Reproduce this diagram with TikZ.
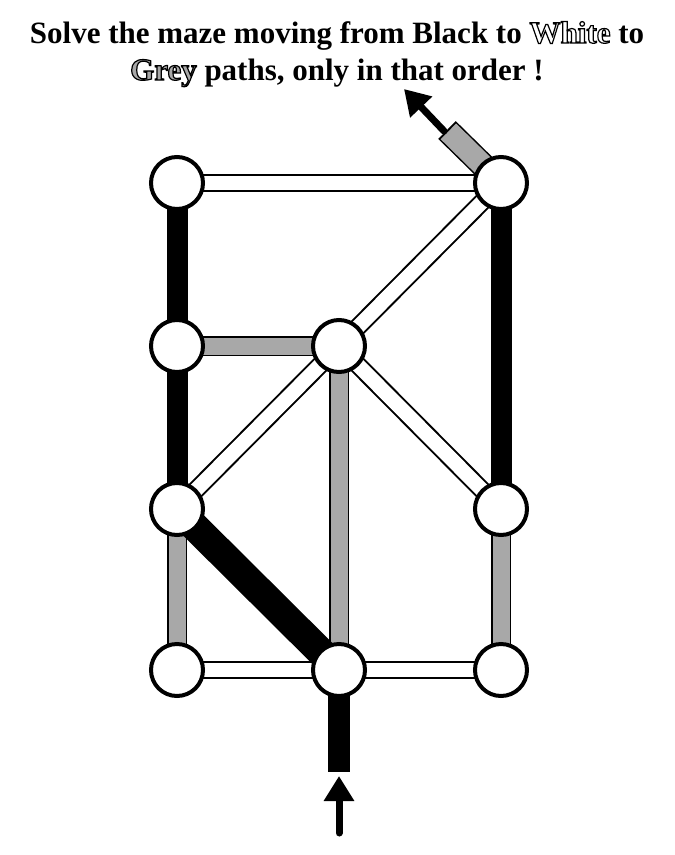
\documentclass[tikz,border=0pt]{standalone}
\usepackage{fontspec}
\setmainfont{Liberation Serif}
\usetikzlibrary{arrows.meta}
\definecolor{mgrey}{gray}{0.66}
\newcommand{\outlinetext}[2]{\textcolor{#1}{\special{pdf:literal direct 0 G 2 Tr 1.2 w}#2\special{pdf:literal direct 0 Tr}}}
\tikzset{
  pt/.style={circle,draw=black,line width=4pt,fill=white,minimum size=52pt,inner sep=0pt},
  blackband/.style={line width=21pt,draw=black},
  thickband/.style={line width=29pt,draw=black},
  whiteout/.style={line width=18.5pt,draw=black},
  whitein/.style={line width=14.5pt,draw=white},
  greyout/.style={line width=20pt,draw=black},
  greyin/.style={line width=17pt,draw=mgrey},
  bigarrow/.style={line width=7pt,line cap=round,-{Triangle[length=25pt,width=29pt]}},
}
\begin{document}
\begin{tikzpicture}[x=1pt,y=-1pt]
\useasboundingbox (0,0) rectangle (675,855);
\node (title) at (337,54) [align=center,font=\fontsize{31}{37}\selectfont\bfseries]
  {Solve the maze moving from Black to \outlinetext{white}{White} to\\
   \outlinetext{mgrey}{Grey} paths, only in that order !};
% coordinates
\coordinate (A1) at (177,183);
\coordinate (A2) at (501,183);
\coordinate (B1) at (177,346);
\coordinate (B2) at (339,346);
\coordinate (C1) at (177,509);
\coordinate (C2) at (501,509);
\coordinate (D1) at (177,670);
\coordinate (D2) at (339,670);
\coordinate (D3) at (501,670);
\coordinate (stubend) at (447,130);
\coordinate (stubin) at (448.4,131.4);
\coordinate (arrA) at (444,131);
\coordinate (arrAtip) at (404,89);
\coordinate (botend) at (339,772);
\coordinate (arrB) at (339,833);
\coordinate (arrBtip) at (339,776);
% white bands
\foreach \p/\q in {A1/A2,C1/B2,B2/A2,B2/C2,D1/D2,D2/D3}{
  \draw[whiteout] (\p) -- (\q);
  \draw[whitein] (\p) -- (\q);
}
% grey bands
\foreach \p/\q in {B1/B2,B2/D2,C1/D1,C2/D3}{
  \draw[greyout] (\p) -- (\q);
  \draw[greyin] (\p) -- (\q);
}
% exit stub
\draw[line width=25pt,draw=black] (A2) -- (stubend);
\draw[line width=22pt,draw=mgrey] (A2) -- (stubin);
% black bands
\draw[blackband] (A1) -- (B1);
\draw[blackband] (B1) -- (C1);
\draw[blackband] (A2) -- (C2);
\draw[thickband] (C1) -- (D2);
\draw[line width=22pt,draw=black] (D2) -- (botend);
% arrows
\draw[bigarrow] (arrA) -- (arrAtip);
\draw[bigarrow] (arrB) -- (arrBtip);
% nodes
\node[pt] (a1) at (A1) {};
\node[pt] (a2) at (A2) {};
\node[pt] (b1) at (B1) {};
\node[pt] (b2) at (B2) {};
\node[pt] (c1) at (C1) {};
\node[pt] (c2) at (C2) {};
\node[pt] (d1) at (D1) {};
\node[pt] (d2) at (D2) {};
\node[pt] (d3) at (D3) {};
\end{tikzpicture}
\end{document}
